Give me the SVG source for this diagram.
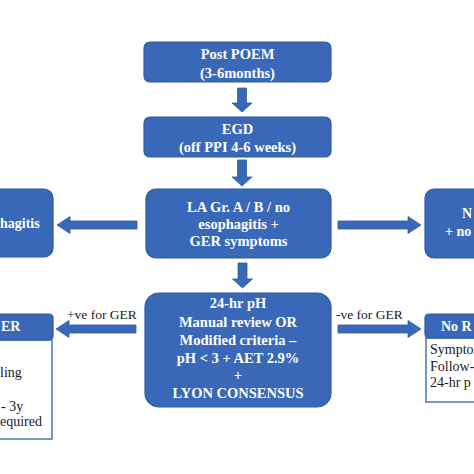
<svg xmlns="http://www.w3.org/2000/svg" width="474" height="474" viewBox="0 0 474 474">
<style>
.box{fill:#3a68b8;stroke:#2d5a9e;stroke-width:1.2}
.body{fill:#ffffff;stroke:#4a74bc;stroke-width:1.5}
.arr{fill:#3a68b8;stroke:#2d5a9e;stroke-width:0.8}
.t{font-family:"Liberation Serif","Times New Roman",serif;font-weight:bold;font-size:14.5px;fill:#ffffff;text-anchor:middle}
.tl{font-family:"Liberation Serif","Times New Roman",serif;font-weight:bold;font-size:14px;fill:#ffffff}
.b{font-family:"Liberation Serif","Times New Roman",serif;font-size:14px;fill:#1a1a1a}
.lab{font-family:"Liberation Serif","Times New Roman",serif;font-size:13.5px;fill:#1a1a1a}
</style>
<rect width="474" height="474" fill="#ffffff"/>
<g id="connectors">
<polygon class="arr" points="237.5,88 246.5,88 246.5,103 252,103 242,112 232,103 237.5,103"/>
<polygon class="arr" points="237.5,160 246.5,160 246.5,177 252,177 242,186 232,177 237.5,177"/>
<polygon class="arr" points="238,263 247,263 247,279 252.5,279 242.5,288 232.5,279 238,279"/>
<polygon class="arr" points="137,221 70,221 70,216.5 57,225 70,233.5 70,229 137,229"/>
<polygon class="arr" points="338,221 408,221 408,216.5 421,225 408,233.5 408,229 338,229"/>
<polygon class="arr" points="136,325 69,325 69,320.5 56,329 69,337.5 69,333 136,333"/>
<polygon class="arr" points="338,325 408,325 408,320.5 421,329 408,337.5 408,333 338,333"/>
<text class="lab" x="67" y="319">+ve for GER</text>
<text class="lab" x="336" y="319">-ve for GER</text>
</g>
<g id="post-poem">
<rect class="box" x="144" y="42" width="187" height="40" rx="6"/>
<text class="t" x="237.5" y="59">Post POEM</text>
<text class="t" x="237.5" y="78">(3-6months)</text>
</g>
<g id="egd">
<rect class="box" x="144" y="117" width="187" height="40" rx="6"/>
<text class="t" x="237.5" y="134">EGD</text>
<text class="t" x="237.5" y="152">(off PPI 4-6 weeks)</text>
</g>
<g id="la-grade">
<rect class="box" x="146" y="189" width="185" height="69" rx="10"/>
<text class="t" x="238.5" y="212">LA Gr. A / B / no</text>
<text class="t" x="238.5" y="229">esophagitis +</text>
<text class="t" x="238.5" y="246">GER symptoms</text>
</g>
<g id="ph-study">
<rect class="box" x="145" y="293" width="186" height="114" rx="14"/>
<text class="t" x="238" y="308">24-hr pH</text>
<text class="t" x="238" y="327">Manual review OR</text>
<text class="t" x="238" y="345">Modified criteria –</text>
<text class="t" x="238" y="363">pH &lt; 3 + AET 2.9%</text>
<text class="t" x="238" y="380">+</text>
<text class="t" x="238" y="398">LYON CONSENSUS</text>
</g>
<g id="left-esophagitis">
<rect class="box" x="-20" y="189" width="73" height="68" rx="9"/>
<text class="tl" x="0" y="228">hagitis</text>
</g>
<g id="right-no-esophagitis">
<rect class="box" x="425" y="189" width="70" height="69" rx="9"/>
<text class="tl" x="462" y="218">N</text>
<text class="tl" x="445" y="236">+ no</text>
</g>
<g id="left-ger">
<rect class="body" x="-2" y="340" width="54" height="99"/>
<rect class="box" x="-20" y="314" width="73" height="26" rx="4"/>
<text class="tl" x="1" y="331">ER</text>
<text class="b" x="0" y="377">ling</text>
<text class="b" x="1" y="411">- 3y</text>
<text class="b" x="0" y="426">equired</text>
</g>
<g id="right-no-ger">
<rect class="body" x="426" y="338" width="70" height="64"/>
<rect class="box" x="425" y="314" width="70" height="24" rx="4"/>
<text class="tl" x="441" y="331">No R</text>
<text class="b" x="430" y="354">Sympto</text>
<text class="b" x="430" y="371">Follow-</text>
<text class="b" x="430" y="387">24-hr p</text>
</g>
</svg>
